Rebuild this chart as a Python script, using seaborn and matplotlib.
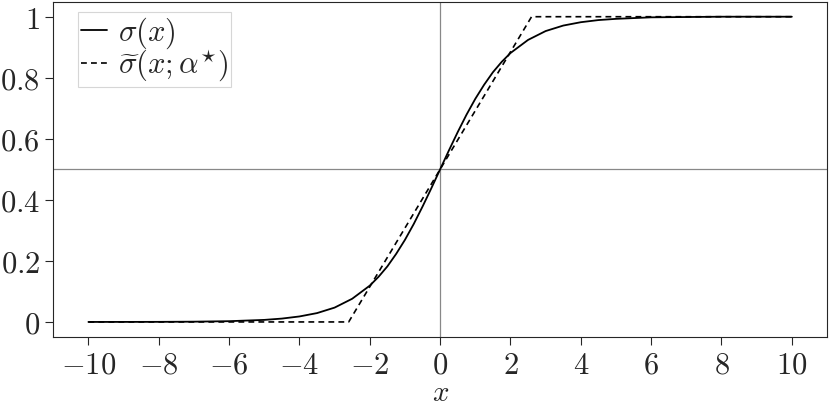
import numpy as np
import pandas as pd
import seaborn as sns
import matplotlib
matplotlib.use("Agg")
import matplotlib.pyplot as plt
from matplotlib.ticker import FuncFormatter

# values
sig_x = [-10, -9, -8, -7, -6, -5, -4.5, -4, -3.5, -3, -2.5, -2, -1.75, -1.5, -1.25,
         -1, -0.75, -0.5, -0.25, 0, 0.25, 0.5, 0.75, 1, 1.25, 1.5, 1.75, 2, 2.5,
         3, 3.5, 4, 4.5, 5, 6, 7, 8, 9, 10]
sig_y = [0.0, 0.0001, 0.0003, 0.0009, 0.0025, 0.0067, 0.011, 0.018, 0.029, 0.047,
         0.076, 0.119, 0.148, 0.182, 0.223, 0.269, 0.321, 0.378, 0.438, 0.5,
         0.562, 0.622, 0.679, 0.731, 0.777, 0.818, 0.852, 0.881, 0.924,
         0.953, 0.971, 0.982, 0.989, 0.993, 0.998, 0.999, 1.0, 1.0, 1.0]

# piecewise linear approximation
approx_x = [-10, -2.6, 2.6, 10]
approx_y = [0.0, 0.0, 1.0, 1.0]

xticks = [-10, -8, -6, -4, -2, 0, 2, 4, 6, 8, 10]
yticks = [0, 0.2, 0.4, 0.6, 0.8, 1]

sns.set_style("ticks")
plt.rcParams["mathtext.fontset"] = "cm"
plt.rcParams["font.family"] = ["DejaVu Serif"]

df_sig = pd.DataFrame({"x": sig_x, "y": sig_y})
df_apx = pd.DataFrame({"x": approx_x, "y": approx_y})

fig, ax = plt.subplots(figsize=(8.32, 4.13), dpi=100)
ax.axhline(0.5, color="#888888", lw=0.9, zorder=1)
ax.axvline(0, color="#888888", lw=0.9, zorder=1)
sns.lineplot(data=df_sig, x="x", y="y", ax=ax, color="black", lw=1.3,
             label=r"$\sigma(x)$")
sns.lineplot(data=df_apx, x="x", y="y", ax=ax, color="black", lw=1.2,
             linestyle=(0, (3.5, 2.5)), label=r"$\widetilde{\sigma}(x;\alpha^{\star})$")

ax.set_xlim(-11, 11)
ax.set_ylim(-0.048, 1.048)
ax.set_xticks(xticks)
ax.set_yticks(yticks)
ax.xaxis.set_major_formatter(FuncFormatter(lambda v, p: r"$%d$" % v))
ax.yaxis.set_major_formatter(FuncFormatter(lambda v, p: r"$%g$" % v))
ax.tick_params(labelsize=22, length=6, width=0.8, direction="out")
ax.set_xlabel(r"$x$", fontsize=21, labelpad=-1)
ax.set_ylabel("")
for s in ax.spines.values():
    s.set_linewidth(0.8)

leg = ax.legend(loc="upper left", bbox_to_anchor=(0.032, 0.97), fontsize=22,
                frameon=True, fancybox=False, handlelength=0.85,
                handletextpad=0.35, borderpad=0.1, labelspacing=-0.1,
                borderaxespad=0)
leg.get_frame().set_edgecolor("#cccccc")
leg.get_frame().set_linewidth(0.8)

fig.subplots_adjust(left=0.064, right=0.994, top=0.995, bottom=0.185)
fig.savefig("out.png", dpi=100)
